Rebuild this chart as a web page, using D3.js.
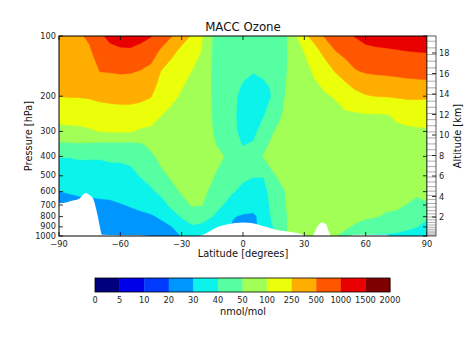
<!DOCTYPE html>
<html><head><meta charset="utf-8">
<script src="https://cdn.jsdelivr.net/npm/d3@7"></script>
<style>body{margin:0;background:#fff;} svg{display:block;font-family:"DejaVu Sans",sans-serif;}</style>
</head><body><svg id="chart" width="474" height="357"></svg>
<script>
// ---------------- data ----------------
const latitudes = [-90,-85,-80,-75,-70,-65,-60,-55,-50,-45,-40,-35,-30,-25,-20,-15,-10,-5,0,5,10,15,20,25,30,35,40,45,50,55,60,65,70,75,80,85,90];
const pressureLevels = [100,120,150,180,200,250,300,350,400,500,600,700,800,900,1000];
// ozone (nmol/mol), one list per latitude, values from 100 hPa down to 1000 hPa
const ozoneByLat = [
 [425,380,325,280,255,156,83,48.1,40.4,34.3,29.9,27.8,26.1,24.5,23],
 [450,400,337,287,260,162,87,48.7,40.4,34.8,30.4,28,26.2,24.5,23],
 [475,420,350,295,262,166,88,48.8,41.1,35.2,30.9,28.3,26.3,24.6,23],
 [575,470,382,312,272,175,94,48.3,41,35.3,31.2,28.4,26.4,24.6,23],
 [900,725,510,375,297,182,103,47.8,40.9,35.4,31.4,28.8,27,25.5,24],
 [1150,820,525,387,312,190,109,47.6,41.8,35.8,31.7,28.9,27.1,25.5,24],
 [1250,895,550,395,320,195,114,47.6,41.8,36.3,32.7,29.6,27.5,25.6,24],
 [1250,910,535,390,320,193,109,47.6,42.8,37.1,33.5,30.5,28,25.9,24],
 [1150,825,490,370,302,180,93,48.7,45.7,40.6,35.8,31.6,28.5,26.1,24],
 [1025,705,435,327,262,158,90,61.5,48.3,43.2,38.6,33.2,29.1,26.4,24],
 [750,457,245,195,165,101,85,73.5,62.5,47.9,42,36.4,31.1,27.7,25],
 [525,297,199,150,121,92,82,74.5,67.5,55.5,47.4,42,35.9,29.7,26],
 [325,220,156,103,96.5,87.5,80.5,74.5,69.5,61,54,47.2,40.8,35.1,30.5],
 [242,172,99,93.5,90,83,78,73.5,69.5,62.5,57,52.5,46.5,38.4,34],
 [107.5,96.5,90.5,86,83,77,72.5,68.5,65,59.5,55,51,43.9,37.7,34],
 [50.5,49.5,49,49,49.2,49.6,51,55,57.5,52.5,49,45,40,36,34],
 [45.5,45,44.5,44.5,44.5,45,46,48,52.5,47.5,44,40.2,36,33,32],
 [43,43,42,41.5,41.2,41,41.2,42,44,44,40.5,36,30.5,29,27],
 [42,41.5,41,39.5,38.5,38,38.5,39.7,42,41.5,38,34,29,27,26],
 [42,41.5,40.5,36.5,35,35,37.5,41,43,40.5,36,33,28.5,28,27],
 [42.5,42,41.5,38.5,37,39.5,44,48,52.5,40.5,36,34,33,33,33],
 [44,43.5,42,41,41,45,49.8,60,62.5,49.5,46,44.5,43,40.5,39],
 [47,47,48,49,49.5,55,62.5,65,65,57.5,49.7,49.6,49.5,49.5,49.5],
 [85,77.5,72.5,70,70,70,70,70,67.5,65,60,57.5,55,55,55],
 [227,103,90,85,82.5,77.5,75,72.5,70,67.5,65,62.5,60,60,60],
 [325,203,113,95,91.5,85,80,77.5,75,72.5,70,67.5,65,65,65],
 [550,312,181,109,97.5,90,85,81,77.5,72.5,70,67.5,65,65,62.5],
 [750,487,260,160,104.5,92.5,87.5,82.5,77.5,72.5,67.5,65,60,55,51],
 [900,635,372,214,148,94,89,84,80,72.5,67.5,62.5,57.5,52.5,49],
 [1025,775,485,287,203,92.5,87.5,82.5,77.5,70,65,60,55,49.5,46],
 [1150,870,545,345,239,95,87.5,82.5,77.5,70,65,60,52.5,48.5,39.5],
 [1200,905,580,362,255,95,87.5,82.5,77.5,70,65,57.5,52,45.5,38.5],
 [1250,920,595,375,260,96.5,89,84,80,72.5,65,57.5,49,44.5,38.5],
 [1275,950,620,387,272,118,91,85,80,72.5,65,56,48.5,43.5,38],
 [1300,985,650,407,287,137,92.5,86,81,72.5,62.5,49.8,46,42,37],
 [1300,1005,665,417,290,146,94,87,81.5,71,55,48.5,45,40.2,36],
 [1300,1015,685,422,277,155,95,87.5,81.5,70,57.5,49.5,41,38,35]
];
// surface pressure (hPa) – region below is masked (white)
const surfaceLat = [-90,-88,-85,-80,-77,-75,-73,-72,-71,-70,-69,-60,-50,-44,-30,-22,-18,-15,-12,-8,-4,0,4,8,12,16,22,28,31,34,35,36.5,38.5,40.5,42,43,52,54,70,72,90];
const surfaceP   = [685,684,672,650,610,625,660,720,800,900,985,990,992,1000,1000,1000,970,930,900,875,860,855,860,880,905,930,950,975,1000,1000,960,895,855,870,950,1000,1000,985,985,1000,1000];
const levels = [0,5,10,20,30,40,50,100,250,500,1000,1500,2000];
const levelColors = ["#00007f","#0000e8","#003aff","#0096ff","#0bf3eb","#56ffa1","#a1ff56","#ebff0b","#ffad00","#ff5700","#e90000","#7f0000"];
const pressureTicks = [100,200,300,400,500,600,700,800,900,1000];
const latTicks = [-90,-60,-30,0,30,60,90];
const altTicks = [2,4,6,8,10,12,14,16,18];
const modelLevelKm = [0.03,0.1,0.2,0.32,0.46,0.62,0.8,1.0,1.22,1.46,1.72,2.0,2.3,2.62,2.96,3.32,3.7,4.1,4.52,4.96,5.42,5.9,6.4,6.92,7.45,8.0,8.56,9.13,9.71,10.3,10.9,11.5,12.1,12.7,13.3,13.95,14.6,15.25,15.9,16.55,17.2,17.85,18.5,19.15];

// ---------------- layout ----------------
const svg = d3.select("#chart");
const L = 59, R = 427, T = 36, B = 236;
const x = d3.scaleLinear().domain([-90, 90]).range([L, R]);
const y = d3.scaleLog().domain([100, 1000]).range([T, B]);
const z = d3.scaleLinear().domain([0, 20]).range([237.5, 32.5]);
const toIdx = d3.scaleLinear().domain(levels).range(levels.map((d, i) => i)).clamp(true);

const nx = latitudes.length, ny = pressureLevels.length;
const grid = new Array(nx * ny);
for (let j = 0; j < ny; j++) for (let i = 0; i < nx; i++) grid[j * nx + i] = toIdx(ozoneByLat[i][j]);

function gx(c) {
  const t = Math.max(0, Math.min(nx - 1, c - 0.5));
  const i0 = Math.min(nx - 2, Math.floor(t)), f = t - i0;
  return x(latitudes[i0] + f * (latitudes[i0 + 1] - latitudes[i0]));
}
function gy(c) {
  const t = Math.max(0, Math.min(ny - 1, c - 0.5));
  const j0 = Math.min(ny - 2, Math.floor(t)), f = t - j0;
  const y0 = y(pressureLevels[j0]), y1 = y(pressureLevels[j0 + 1]);
  return y0 + f * (y1 - y0);
}
const proj = d3.geoTransform({ point(px, py) { this.stream.point(gx(px), gy(py)); } });
const path = d3.geoPath(proj);
const contours = d3.contours().size([nx, ny]).thresholds(levelColors.map((c, i) => i))(grid);

svg.append("defs").append("clipPath").attr("id", "plotclip")
  .append("rect").attr("x", L).attr("y", T).attr("width", R - L).attr("height", B - T);

const plot = svg.append("g").attr("clip-path", "url(#plotclip)");
plot.selectAll("path.band").data(contours).join("path")
  .attr("class", "band")
  .attr("d", path)
  .attr("fill", (d, i) => levelColors[i])
  .attr("stroke", (d, i) => levelColors[i]).attr("stroke-width", 0.4);

// masked area below surface
const surf = surfaceLat.map((d, i) => [d, surfaceP[i]]);
plot.append("path").datum(surf)
  .attr("d", d3.area().x(d => x(d[0])).y0(B + 2).y1(d => y(d[1])).curve(d3.curveMonotoneX))
  .attr("fill", "#fff");

// frame
svg.append("rect").attr("x", L).attr("y", T).attr("width", R - L).attr("height", B - T)
  .attr("fill", "none").attr("stroke", "#000").attr("stroke-width", 1);

// ticks (inward, both sides)
const tk = svg.append("g").attr("stroke", "#000").attr("stroke-width", 0.8);
pressureTicks.forEach(p => {
  tk.append("line").attr("x1", L).attr("x2", L + 4).attr("y1", y(p)).attr("y2", y(p));
  tk.append("line").attr("x1", R).attr("x2", R - 4).attr("y1", y(p)).attr("y2", y(p));
});
latTicks.forEach(l => {
  tk.append("line").attr("x1", x(l)).attr("x2", x(l)).attr("y1", B).attr("y2", B - 4);
  tk.append("line").attr("x1", x(l)).attr("x2", x(l)).attr("y1", T).attr("y2", T + 4);
});
const fmtLat = d => (d < 0 ? "\u2212" + Math.abs(d) : String(d));
svg.append("g").selectAll("text").data(pressureTicks).join("text")
  .attr("x", L - 3).attr("y", d => y(d) + 2.5).attr("text-anchor", "end")
  .attr("font-size", 8.2).attr("fill", "#222").text(d => d);
svg.append("g").selectAll("text").data(latTicks).join("text")
  .attr("x", d => x(d)).attr("y", B + 10.5).attr("text-anchor", "middle")
  .attr("font-size", 8.2).attr("fill", "#222").text(fmtLat);

// altitude strip
const S0 = R, S1 = R + 9;
const strip = svg.append("g");
strip.append("rect").attr("x", S0).attr("y", T).attr("width", S1 - S0).attr("height", B - T)
  .attr("fill", "#fff");
strip.selectAll("line.lev").data(modelLevelKm.filter(k => z(k) > T && z(k) < B)).join("line")
  .attr("class", "lev").attr("x1", S0).attr("x2", S1).attr("y1", d => z(d)).attr("y2", d => z(d))
  .attr("stroke", "#888").attr("stroke-width", 0.7);
strip.append("rect").attr("x", S0).attr("y", T).attr("width", S1 - S0).attr("height", B - T)
  .attr("fill", "none").attr("stroke", "#333").attr("stroke-width", 0.8);
strip.selectAll("line.at").data(altTicks).join("line").attr("class", "at")
  .attr("x1", S1).attr("x2", S1 - 4).attr("y1", d => z(d)).attr("y2", d => z(d))
  .attr("stroke", "#000").attr("stroke-width", 0.8);
strip.selectAll("text").data(altTicks).join("text")
  .attr("x", S1 + 3).attr("y", d => z(d) + 3).attr("font-size", 8.2).attr("fill", "#222").text(d => d);

// labels
svg.append("text").attr("x", 243).attr("y", 31).attr("text-anchor", "middle")
  .attr("font-size", 11.8).attr("fill", "#111").text("MACC Ozone");
svg.append("text").attr("x", 243).attr("y", 257).attr("text-anchor", "middle")
  .attr("font-size", 9.8).attr("fill", "#111").text("Latitude [degrees]");
svg.append("text").attr("transform", "translate(32,136) rotate(-90)").attr("text-anchor", "middle")
  .attr("font-size", 9.8).attr("fill", "#111").text("Pressure [hPa]");
svg.append("text").attr("transform", "translate(461,136) rotate(-90)").attr("text-anchor", "middle")
  .attr("font-size", 9.8).attr("fill", "#111").text("Altitude [km]");

// colorbar
const cbx = d3.scaleLinear().domain([0, levelColors.length]).range([95, 390]);
const cb = svg.append("g");
cb.selectAll("rect.c").data(levelColors).join("rect").attr("class", "c")
  .attr("x", (d, i) => cbx(i)).attr("y", 278).attr("width", cbx(1) - cbx(0) + 0.3).attr("height", 14)
  .attr("fill", d => d);
cb.append("rect").attr("x", 95).attr("y", 278).attr("width", 295).attr("height", 14)
  .attr("fill", "none").attr("stroke", "#000").attr("stroke-width", 0.8);
cb.selectAll("text").data(levels).join("text")
  .attr("x", (d, i) => cbx(i)).attr("y", 302.5).attr("text-anchor", "middle")
  .attr("font-size", 8.2).attr("fill", "#222").text(d => d);
svg.append("text").attr("x", 243).attr("y", 314.5).attr("text-anchor", "middle")
  .attr("font-size", 9.8).attr("fill", "#111").text("nmol/mol");
</script></body></html>
